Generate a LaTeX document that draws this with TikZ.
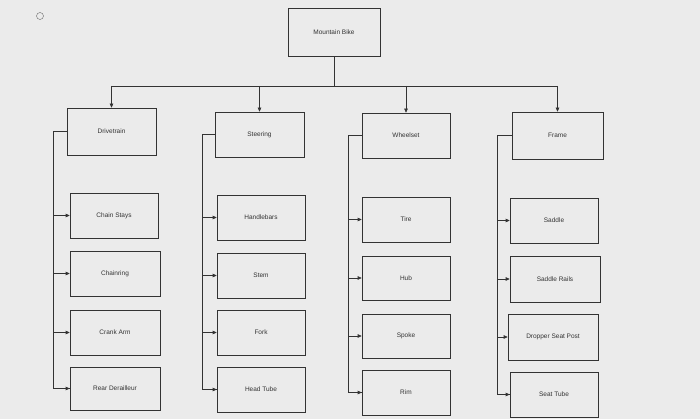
\documentclass[tikz,border=0pt]{standalone}
\usepackage{fontspec}
\setmainfont{Liberation Sans}
\usetikzlibrary{arrows.meta}
\begin{document}
\begin{tikzpicture}[x=1pt,y=-1pt,
  bx/.style={draw=black!80,fill=white!92!black,line width=0.6pt,font=\fontsize{6.5}{7}\selectfont,text=black!80},
  ln/.style={draw=black!80,line width=0.6pt},
  ar/.style={ln,-{Triangle[length=4pt,width=3.5pt]}}]
\fill[black!8] (0,0) rectangle (700,419);
\useasboundingbox (0,0) rectangle (700,419);
\draw[black!60] (40,16) circle (3.5);
\newcommand\bb[5]{\node[bx,minimum width={#4-#2},minimum height={#5-#3}] (#1) at ({(#2+#4)/2},{(#3+#5)/2}) {};}
\node[bx,minimum width=92,minimum height=48] (mb) at (334,32) {Mountain Bike};
\coordinate (hub) at (334,86);
\draw[ln] (mb.south) -- (hub);
\foreach \n/\t/\xa/\ya/\xb/\yb/\tx in {
 d/Drivetrain/67/108/156/155/53,
 s/Steering/215/112/304/157/202,
 w/Wheelset/362/113/450/158/348,
 f/Frame/512/112/603/159/497}{
  \node[bx,minimum width={\xb-\xa},minimum height={\yb-\ya}] (\n) at ({(\xa+\xb)/2},{(\ya+\yb)/2}) {\t};
  \coordinate (\n c) at (\n.north|-hub);
  \draw[ar] (\n c) -- (\n.north);
  \coordinate (\n t) at (\tx,{(\ya+\yb)/2});
}
\draw[ln] (dc) -- (fc);
\foreach \n/\t/\xa/\ya/\xb/\yb/\tx/\p in {
 d1/Chain Stays/70/193/158/238/53/d, d2/Chainring/70/251/160/296/53/d, d3/Crank Arm/70/310/160/355/53/d, d4/Rear Derailleur/70/367/160/410/53/d,
 s1/Handlebars/217/195/305/240/202/s, s2/Stem/217/253/305/298/202/s, s3/Fork/217/310/305/355/202/s, s4/Head Tube/217/367/305/412/202/s,
 w1/Tire/362/197/450/242/348/w, w2/Hub/362/256/450/300/348/w, w3/Spoke/362/314/450/358/348/w, w4/Rim/362/370/450/415/348/w,
 f1/Saddle/510/198/598/243/497/f, f2/Saddle Rails/510/256/600/302/497/f, f3/Dropper Seat Post/508/314/598/360/497/f, f4/Seat Tube/510/372/598/417/497/f}{
  \node[bx,minimum width={\xb-\xa},minimum height={\yb-\ya}] (\n) at ({(\xa+\xb)/2},{(\ya+\yb)/2}) {\t};
  \coordinate (\n t) at (\tx,{(\ya+\yb)/2});
  \draw[ar] (\n t) -- (\n.west);
}
\foreach \p in {d,s,w,f}{
  \draw[ln] (\p.west|-\p t) -- (\p t) -- (\p 4t) -- (\p 4.west);
}
\end{tikzpicture}
\end{document}
